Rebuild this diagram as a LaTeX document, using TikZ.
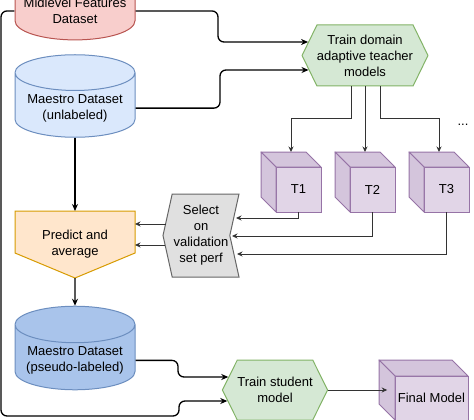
\documentclass[tikz,border=0pt]{standalone}
\usepackage{fontspec}
\setmainfont{Liberation Sans}
\usetikzlibrary{positioning,shapes.geometric,shapes.symbols,arrows.meta,calc,backgrounds}

\definecolor{redfill}{HTML}{F8CECC}
\definecolor{redline}{HTML}{B85450}
\definecolor{bluefill}{HTML}{DAE8FC}
\definecolor{blueline}{HTML}{6C8EBF}
\definecolor{deepfill}{HTML}{A9C4EB}
\definecolor{greenfill}{HTML}{D5E8D4}
\definecolor{greenline}{HTML}{82B366}
\definecolor{orangefill}{HTML}{FFE6CC}
\definecolor{orangeline}{HTML}{D79B00}
\definecolor{grayfill}{HTML}{E0E0E0}
\definecolor{grayline}{HTML}{666666}
\definecolor{cubefill}{HTML}{E1D5E7}
\definecolor{cubeside}{HTML}{D4C5DC}
\definecolor{cubeline}{HTML}{9673A6}

\tikzstyle{box} = [align=center,font=\fontsize{13}{16}\selectfont,line width=1pt]
\tikzstyle{dataset} = [box,cylinder,shape border rotate=90,aspect=0.35,anchor=shape center,minimum width=120,minimum height=80]
\tikzstyle{train} = [box,signal,signal to=west and east,inner xsep=0,inner ysep=1,draw=greenline,fill=greenfill]
\tikzstyle{teacher} = [box,rectangle,draw=cubeline,fill=cubefill,inner sep=0,outer sep=0,minimum width=45,minimum height=45]
\tikzstyle{cubeface} = [draw=cubeline,fill=cubeside,line width=1pt,line join=round]
\tikzstyle{flow} = [draw,line width=1.3pt,rounded corners=6,-{Stealth[length=7pt,width=6pt]}]
\tikzstyle{link} = [draw=black!80,line width=0.8pt,-{Stealth[length=5.5pt,width=5pt]}]

\begin{document}
\begin{tikzpicture}[x=1pt,y=-1pt,node distance=74pt]
	\useasboundingbox (0,0) rectangle (474,420);
	\clip (0,0) rectangle (474,420);
	\node (midlevel) [dataset,draw=redline,fill=redfill] at (75,-2) {Midlevel Features\\Dataset};
	\node (unlabeled) [dataset,draw=blueline,fill=bluefill] at (75,96) {Maestro Dataset\\(unlabeled)};
	\node (predict) [box,rectangle,inner sep=0,outer sep=0,minimum width=120,minimum height=67] at (75,244.5) {Predict and\\average};
	\node (pseudo) [dataset,draw=blueline,fill=deepfill,minimum height=82] at (75,348) {Maestro Dataset\\(pseudo-labeled)};
	\node (teach) [train,signal pointer angle=128,minimum width=120,minimum height=61] at (365,55.5) {Train domain\\adaptive teacher\\models};
	\node (sel) [box,signal,signal to=west,signal from=east,signal pointer angle=155,inner sep=1,draw=grayline,fill=grayfill,minimum width=76,minimum height=83] at (201,235.5) {Select\\on\\validation\\set perf};
	\node (t1) [teacher] at (298.5,189.5) {T1};
	\node (t2) [teacher,right of=t1] {T2};
	\node (t3) [teacher,right of=t2] {T3};
	\node (more) [box] at (463,125) {...};
	\node (student) [train,signal pointer angle=127,minimum width=90,minimum height=60] at (275,390) {Train student\\model};
	\node (final) [teacher,minimum width=73,minimum height=44] at (431.5,398) {Final Model};
	% pentagon behind the predict text
	\begin{scope}[on background layer]
		\draw [line width=1pt,draw=orangeline,fill=orangefill] (predict.north west) -- (predict.north east) -- ($(predict.south east)+(0,-25)$) -- (predict.south) -- ($(predict.south west)+(0,-25)$) -- cycle;
	\end{scope}
	% back faces of the cubes
	\foreach \n/\d in {t1/15,t2/15,t3/15,final/16}{
		\draw [cubeface] (\n.north west) -- ++(-\d,-\d) -- ($(\n.north east)+(-\d,-\d)$) -- (\n.north east) -- cycle;
		\draw [cubeface] (\n.north west) -- ++(-\d,-\d) -- ($(\n.south west)+(-\d,-\d)$) -- (\n.south west) -- cycle;
	}
	\coordinate (pick1) at (165.5,224);
	\coordinate (pick2) at (165,245);
	\draw [flow] (midlevel.east) -| (218,42) -- ($(teach.west)+(6.6,-13.5)$);
	\draw [flow] (unlabeled.east) -| (220,70) -- ($(teach.west)+(7,14.5)$);
	\draw [flow] (midlevel.west) -| (1,416) -| (179,401) -- ($(student.west)+(5.5,11)$);
	\draw [flow] (unlabeled) -- (predict);
	\draw [flow] (predict.south) -- (pseudo);
	\draw [flow] (pseudo.east) -| (178,377) -- ($(student.west)+(6.5,-13)$);
	\draw [link] ([xshift=-14pt]teach.south) -- ++(0,32) -| ([xshift=-7.5pt,yshift=15pt]t1.north);
	\draw [link] (teach.south) -- ([xshift=-7.5pt,yshift=15pt]t2.north);
	\draw [link] ([xshift=15pt]teach.south) -- ++(0,32) -| ([xshift=-7.5pt,yshift=15pt]t3.north);
	\draw [link] (t1.south) |- ($(sel)+(35,-17.5)$);
	\draw [link] (t2.south) |- ($(sel)+(31,0.5)$);
	\draw [link] (t3.south) |- ($(sel)+(36,18.5)$);
	\draw [link] (pick1) -- (pick1 -| predict.east);
	\draw [link] (pick2) -- (pick2 -| predict.east);
	\draw [link] (student.east) -- ++(59,0);
\end{tikzpicture}
\end{document}
